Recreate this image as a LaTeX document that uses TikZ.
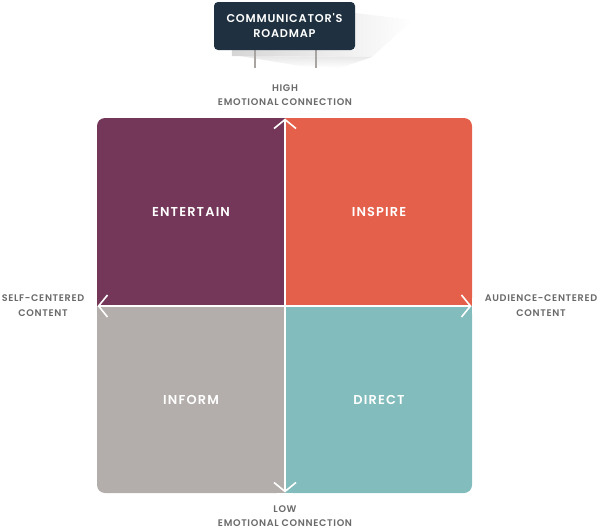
\documentclass[tikz,border=0pt]{standalone}
\usepackage{fontspec}
\usetikzlibrary{arrows.meta,fadings}
\newfontfamily\labfont[LetterSpace=7,UprightFont=*-SemiBold,BoldFont=*-Bold]{Poppins}
\newfontfamily\quadfont[LetterSpace=9,UprightFont=*-SemiBold,BoldFont=*-Bold]{Poppins}
\definecolor{signbg}{HTML}{1F3140}
\definecolor{entc}{HTML}{74375A}
\definecolor{insc}{HTML}{E5604B}
\definecolor{infc}{HTML}{B3AEAB}
\definecolor{dirc}{HTML}{82BCBC}
\definecolor{labc}{HTML}{6A6A6A}
\definecolor{postc}{HTML}{A8A4A2}
\definecolor{shadc}{HTML}{D6D6D6}
\tikzset{
  axlabel/.style={font=\labfont\fontsize{9.6}{14.5}\selectfont, text=labc, align=center, inner sep=0pt},
  quadlabel/.style={font=\quadfont\fontsize{12.9}{14}\selectfont, text=white, inner sep=0pt},
  axarrow/.style={draw=white, line width=1.6pt, {Straight Barb[length=9pt,width=22pt,line width=1.6pt]}-{Straight Barb[length=9pt,width=22pt,line width=1.6pt]}}
}
\begin{document}
\begin{tikzpicture}[x=1pt,y=-1pt]
\useasboundingbox (0,0) rectangle (600,530);
% sign shadow
\fill[shadc, path fading=east] (232,56) -- (372,57) -- (413,20) -- (355,13) -- (355,50) -- (232,50) -- cycle;
\fill[shadc!60, path fading=south] (240,56) -- (372,57) -- (340,68) -- (300,66) -- cycle;
% posts
\draw[postc, line width=2pt] (255,50) -- (255,68);
\draw[postc, line width=2pt] (316,50) -- (316,68);
\node[fill=signbg, rounded corners=4pt, minimum width=141pt, minimum height=48pt, inner sep=0pt,
  font=\labfont\fontsize{11.3}{15}\selectfont, text=white, align=center] (sign) at (284.5,26) {COMMUNICATOR'S\\ROADMAP};
% quadrants
\fill[entc, rounded corners=8pt] (97,118) -- (285,118) -- (285,306) -- (97,306) -- cycle;
\fill[entc] (277,118) rectangle (285,306);
\fill[entc] (97,298) rectangle (285,306);
\fill[insc, rounded corners=8pt] (285,118) rectangle (472,306);
\fill[insc] (285,118) rectangle (293,306);
\fill[insc] (285,298) rectangle (472,306);
\fill[infc, rounded corners=8pt] (97,306) rectangle (285,493);
\fill[infc] (277,306) rectangle (285,493);
\fill[infc] (97,306) rectangle (285,314);
\fill[dirc, rounded corners=8pt] (285,306) rectangle (472,493);
\fill[dirc] (285,306) rectangle (293,493);
\fill[dirc] (285,306) rectangle (472,314);
\node[quadlabel] (ent) at (191,212) {ENTERTAIN};
\node[quadlabel] (ins) at (379,212) {INSPIRE};
\node[quadlabel] (inf) at (191,400) {INFORM};
\node[quadlabel] (dir) at (379,400) {DIRECT};
% axes
\coordinate (top) at (285,118.5);
\coordinate (bot) at (285,492.5);
\coordinate (lft) at (97.5,306);
\coordinate (rgt) at (471.5,306);
\draw[axarrow] (bot) -- (top);
\draw[axarrow] (lft) -- (rgt);
% labels
\node[axlabel] (high) at (285,95) {HIGH\\EMOTIONAL CONNECTION};
\node[axlabel] (low) at (285,516) {LOW\\EMOTIONAL CONNECTION};
\node[axlabel] (self) at (43,305.5) {SELF-CENTERED\\CONTENT};
\node[axlabel] (aud) at (541,305.5) {AUDIENCE-CENTERED\\CONTENT};
\end{tikzpicture}
\end{document}
